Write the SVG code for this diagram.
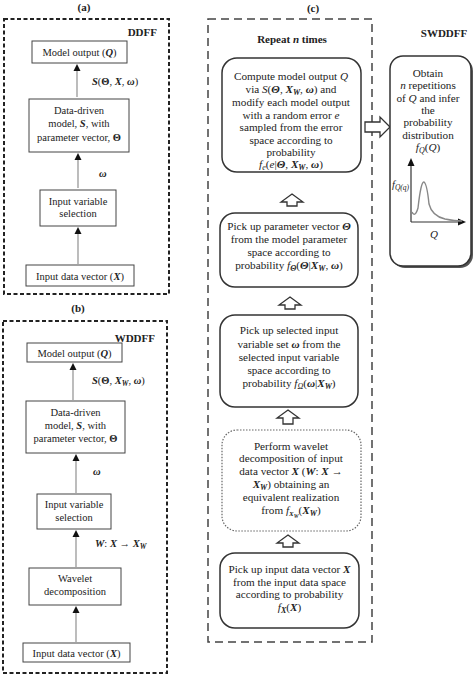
<svg xmlns="http://www.w3.org/2000/svg" width="474" height="675" viewBox="0 0 474 675">
<style>
text{font-family:"Liberation Serif","Times New Roman",serif;fill:#222;}
.t{font-size:10.5px;text-anchor:middle;}
.c{font-size:11.2px;text-anchor:middle;}
.lbl{font-size:10.5px;}
.h{font-weight:bold;font-size:11px;}
.b{font-weight:bold;}
.i{font-style:italic;}
.bi{font-weight:bold;font-style:italic;}
.box{fill:#fff;stroke:#444;stroke-width:1;}
.rbox{fill:#fff;stroke:#333;stroke-width:1.5;}
.dbox{fill:#fff;stroke:#666;stroke-width:1.2;stroke-dasharray:1.5,1.5;}
.pan{fill:none;stroke:#222;stroke-width:2;stroke-dasharray:4,2.5;}
.panc{fill:none;stroke:#444;stroke-width:1.5;stroke-dasharray:8,5;}
.ln{stroke:#999;stroke-width:1.3;fill:none;}
.hol{fill:#fff;stroke:#333;stroke-width:1.3;stroke-linejoin:miter;}
.ax{stroke:#333;stroke-width:1.2;fill:none;}
</style>
<defs>
<marker id="ah" markerWidth="8" markerHeight="8" refX="4" refY="4" orient="auto" markerUnits="userSpaceOnUse">
<path d="M0,0.5 L7,4 L0,7.5 Z" fill="#111"/>
</marker>
</defs>

<!-- Panel frames -->
<g id="panels">
<rect class="pan" x="4" y="19" width="165" height="275"/>
<rect class="pan" x="3" y="321" width="164" height="352"/>
<rect class="panc" x="208" y="19" width="164" height="623"/>
<text class="h" x="84" y="11" text-anchor="middle">(a)</text>
<text class="h" x="78" y="312" text-anchor="middle">(b)</text>
<text class="h" x="313" y="12" text-anchor="middle">(c)</text>
<text class="h" x="157" y="36" text-anchor="end">DDFF</text>
<text class="h" x="155" y="342" text-anchor="end">WDDFF</text>
<text class="h" x="444" y="37" text-anchor="middle">SWDDFF</text>
<text class="h" x="292" y="43" text-anchor="middle">Repeat <tspan class="i">n</tspan> times</text>
</g>

<!-- Connectors -->
<g id="connectors">
<line class="ln" x1="77" y1="97" x2="77" y2="67" marker-end="url(#ah)"/>
<line class="ln" x1="78" y1="188" x2="78" y2="156" marker-end="url(#ah)"/>
<line class="ln" x1="78" y1="264" x2="78" y2="230" marker-end="url(#ah)"/>
<line class="ln" x1="73" y1="400" x2="73" y2="366" marker-end="url(#ah)"/>
<line class="ln" x1="76" y1="493" x2="76" y2="457" marker-end="url(#ah)"/>
<line class="ln" x1="76" y1="567" x2="76" y2="533" marker-end="url(#ah)"/>
<line class="ln" x1="76" y1="642" x2="76" y2="609" marker-end="url(#ah)"/>
<text class="lbl" x="92" y="85"><tspan class="bi">S</tspan>(<tspan class="b">Θ</tspan>, <tspan class="bi">X</tspan>, <tspan class="bi">ω</tspan>)</text>
<text class="lbl" x="99" y="177"><tspan class="bi">ω</tspan></text>
<text class="lbl" x="92" y="384"><tspan class="bi">S</tspan>(<tspan class="b">Θ</tspan>, <tspan class="bi">X</tspan><tspan class="bi" font-size="7.5" dy="2">W</tspan><tspan dy="-2">, </tspan><tspan class="bi">ω</tspan>)</text>
<text class="lbl" x="93" y="475"><tspan class="bi">ω</tspan></text>
<text class="lbl" x="95" y="547"><tspan class="bi">W</tspan>: <tspan class="bi">X</tspan> → <tspan class="bi">X</tspan><tspan class="bi" font-size="7.5" dy="2">W</tspan></text>
<path class="hol" d="M292,194 L303,202 L297,202 L297,206 L287,206 L287,202 L281,202 Z"/>
<path class="hol" d="M290,297 L301,305 L295,305 L295,309 L285,309 L285,305 L279,305 Z"/>
<path class="hol" d="M288,410 L299,418 L293,418 L293,424 L283,424 L283,418 L277,418 Z"/>
<path class="hol" d="M288,535 L299,543 L293,543 L293,547 L283,547 L283,543 L277,543 Z"/>
<path class="hol" d="M390,127 L380,117 L380,122 L365,122 L365,132 L380,132 L380,137 Z"/>
</g>

<!-- (a) DDFF -->
<g id="a-output"><rect class="box" x="32" y="41" width="95" height="22"/>
<text class="t" x="79.5" y="56">Model output (<tspan class="bi">Q</tspan>)</text></g>
<g id="a-model"><rect class="box" x="29" y="99" width="100" height="53"/>
<text class="t" x="79" y="114">Data-driven</text>
<text class="t" x="79" y="127">model, <tspan class="bi">S</tspan>, with</text>
<text class="t" x="79" y="141">parameter vector, <tspan class="b">Θ</tspan></text></g>
<g id="a-ivs"><rect class="box" x="40" y="190" width="76" height="36"/>
<text class="t" x="78" y="205">Input variable</text>
<text class="t" x="78" y="217">selection</text></g>
<g id="a-input"><rect class="box" x="26" y="265" width="108" height="21"/>
<text class="t" x="80" y="280">Input data vector (<tspan class="bi">X</tspan>)</text></g>

<!-- (b) WDDFF -->
<g id="b-output"><rect class="box" x="27" y="343" width="95" height="19"/>
<text class="t" x="74.5" y="357">Model output (<tspan class="bi">Q</tspan>)</text></g>
<g id="b-model"><rect class="box" x="26" y="401" width="99" height="52"/>
<text class="t" x="75.5" y="416">Data-driven</text>
<text class="t" x="75.5" y="429">model, <tspan class="bi">S</tspan>, with</text>
<text class="t" x="75.5" y="442">parameter vector, <tspan class="b">Θ</tspan></text></g>
<g id="b-ivs"><rect class="box" x="37" y="494" width="74" height="35"/>
<text class="t" x="74" y="508">Input variable</text>
<text class="t" x="74" y="521">selection</text></g>
<g id="b-wavelet"><rect class="box" x="29" y="568" width="92" height="37"/>
<text class="t" x="75" y="582">Wavelet</text>
<text class="t" x="75" y="595">decomposition</text></g>
<g id="b-input"><rect class="box" x="23" y="643" width="107" height="19"/>
<text class="t" x="76.5" y="657">Input data vector (<tspan class="bi">X</tspan>)</text></g>

<!-- (c) SWDDFF loop -->
<g id="c-compute"><rect class="rbox" x="222" y="58" width="139" height="114" rx="15"/>
<text class="c" x="291" y="80">Compute model output <tspan class="i">Q</tspan></text>
<text class="c" x="291" y="93">via <tspan class="i">S</tspan>(<tspan class="bi">Θ</tspan>, <tspan class="bi">X</tspan><tspan class="bi" font-size="8" dy="2">W</tspan><tspan dy="-2">, </tspan><tspan class="bi">ω</tspan>) and</text>
<text class="c" x="291" y="106">modify each model output</text>
<text class="c" x="291" y="119">with a random error <tspan class="i">e</tspan></text>
<text class="c" x="291" y="131">sampled from the error</text>
<text class="c" x="291" y="144">space according to</text>
<text class="c" x="291" y="156">probability</text>
<text class="c" x="291" y="168"><tspan class="i">f</tspan><tspan class="i" font-size="8" dy="2">e</tspan><tspan dy="-2">(</tspan><tspan class="i">e</tspan>|<tspan class="bi">Θ</tspan>, <tspan class="bi">X</tspan><tspan class="bi" font-size="8" dy="2">W</tspan><tspan dy="-2">, </tspan><tspan class="bi">ω</tspan>)</text></g>

<g id="c-param"><rect class="rbox" x="220" y="213" width="138" height="74" rx="15"/>
<text class="c" x="289" y="230">Pick up parameter vector <tspan class="bi">Θ</tspan></text>
<text class="c" x="289" y="243">from the model parameter</text>
<text class="c" x="289" y="256">space according to</text>
<text class="c" x="289" y="269">probability <tspan class="i">f</tspan><tspan class="bi" font-size="8" dy="2">Θ</tspan><tspan dy="-2">(</tspan><tspan class="bi">Θ</tspan>|<tspan class="bi">X</tspan><tspan class="bi" font-size="8" dy="2">W</tspan><tspan dy="-2">, </tspan><tspan class="bi">ω</tspan>)</text></g>

<g id="c-ivs"><rect class="rbox" x="220" y="315" width="138" height="92" rx="15"/>
<text class="c" x="289" y="334">Pick up selected input</text>
<text class="c" x="289" y="348">variable set <tspan class="bi">ω</tspan> from the</text>
<text class="c" x="289" y="361">selected input variable</text>
<text class="c" x="289" y="374">space according to</text>
<text class="c" x="289" y="387">probability <tspan class="i">f</tspan><tspan class="i" font-size="8" dy="2">Ω</tspan><tspan dy="-2">(</tspan><tspan class="bi">ω</tspan>|<tspan class="bi">X</tspan><tspan class="bi" font-size="8" dy="2">W</tspan><tspan dy="-2">)</tspan></text></g>

<g id="c-wavelet"><rect class="dbox" x="222" y="430" width="139" height="101" rx="15"/>
<text class="c" x="291" y="450">Perform wavelet</text>
<text class="c" x="291" y="462">decomposition of input</text>
<text class="c" x="291" y="475">data vector <tspan class="bi">X</tspan> (<tspan class="bi">W</tspan>: <tspan class="bi">X</tspan> →</text>
<text class="c" x="291" y="488"><tspan class="bi">X</tspan><tspan class="bi" font-size="8" dy="2">W</tspan><tspan dy="-2">) obtaining an</tspan></text>
<text class="c" x="291" y="501">equivalent realization</text>
<text class="c" x="291" y="514">from <tspan class="i">f</tspan><tspan class="bi" font-size="7" dy="2">X</tspan><tspan class="bi" font-size="5.5" dy="1.5">W</tspan><tspan dy="-3.5">(</tspan><tspan class="bi">X</tspan><tspan class="bi" font-size="8" dy="2">W</tspan><tspan dy="-2">)</tspan></text></g>

<g id="c-input"><rect class="rbox" x="220" y="553" width="139" height="75" rx="15"/>
<text class="c" x="289.5" y="573">Pick up input data vector <tspan class="bi">X</tspan></text>
<text class="c" x="289.5" y="586">from the input data space</text>
<text class="c" x="289.5" y="598">according to probability</text>
<text class="c" x="289.5" y="611"><tspan class="i">f</tspan><tspan class="bi" font-size="8" dy="2">X</tspan><tspan dy="-2">(</tspan><tspan class="bi">X</tspan>)</text></g>

<g id="swddff"><rect x="392" y="58" width="81" height="210" rx="13" fill="#555"/>
<rect class="rbox" x="390" y="56" width="81" height="210" rx="13"/>
<text class="c" x="428" y="77">Obtain</text>
<text class="c" x="428" y="89"><tspan class="i">n</tspan> repetitions</text>
<text class="c" x="428" y="102">of <tspan class="i">Q</tspan> and infer</text>
<text class="c" x="428" y="114">the</text>
<text class="c" x="428" y="126">probability</text>
<text class="c" x="428" y="139">distribution</text>
<text class="c" x="428" y="151"><tspan class="i">f</tspan><tspan class="i" font-size="8" dy="2">Q</tspan><tspan dy="-2">(</tspan><tspan class="i">Q</tspan>)</text>
<line class="ax" x1="411" y1="222" x2="411" y2="164"/>
<path d="M411,158 L407.5,166 L414.5,166 Z" fill="#111"/>
<line class="ax" x1="411" y1="222" x2="460" y2="222"/>
<path d="M466,222 L458,218.5 L458,225.5 Z" fill="#111"/>
<path d="M412,212 Q415,218 418,208 Q421,181 424,182 Q427,184 429,204 Q432,216 445,219 Q455,221 462,221" fill="none" stroke="#888" stroke-width="1.4"/>
<text x="392" y="188" font-size="10.5px"><tspan class="i">f</tspan><tspan class="i" font-size="7.5" dy="2">Q(q)</tspan></text>
<text x="434" y="238" font-size="11px" text-anchor="middle" class="i">Q</text></g>
</svg>
